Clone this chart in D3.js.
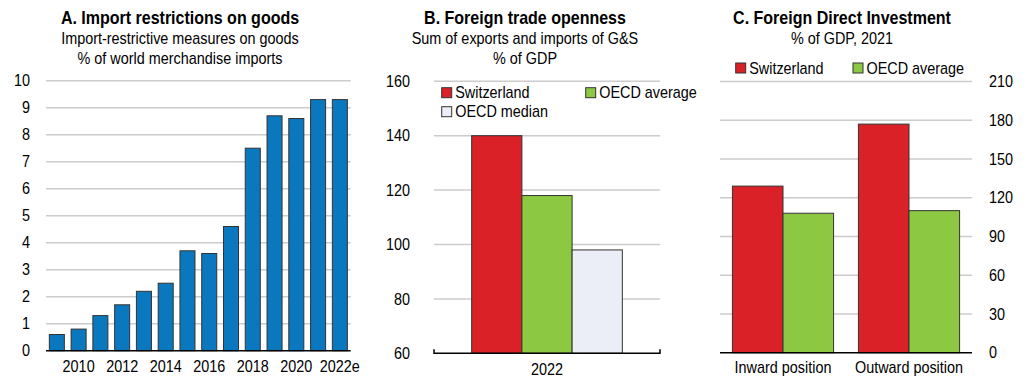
<!DOCTYPE html>
<html><head><meta charset="utf-8">
<script src="https://cdn.jsdelivr.net/npm/d3@7"></script>
<style>
html,body{margin:0;padding:0;background:#fff;}
svg text{font-family:'Liberation Sans Narrow','Arial Narrow','Liberation Sans',Arial,sans-serif;fill:#000;}
</style></head><body>
<svg id="c" width="1024" height="382"></svg>
<script>
// ---- Panel A data ----
const yearsA = ["2009","2010","2011","2012","2013","2014","2015","2016","2017","2018","2019","2020","2021","2022"];
const valuesA = [0.6,0.8,1.3,1.7,2.2,2.5,3.7,3.6,4.6,7.5,8.7,8.6,9.3,9.3];
const tickLabelsA = {"2010":"2010","2012":"2012","2014":"2014","2016":"2016","2018":"2018","2020":"2020","2022":"2022e"};
const yTicksA = [0,1,2,3,4,5,6,7,8,9,10];
// ---- Panel B data ----
const categoriesB = ["2022"];
const seriesB = ["Switzerland","OECD average","OECD median"];
const valuesB = [140,118,98];
const yTicksB = [60,80,100,120,140,160];
// ---- Panel C data ----
const categoriesC = ["Inward position","Outward position"];
const seriesC = ["Switzerland","OECD average"];
const switzerlandC = [129,177];
const oecdAvgC = [108,110];
const yTicksC = [0,30,60,90,120,150,180,210];

const colors = {"Switzerland":"#DA2128","OECD average":"#8CC841","OECD median":"#EBEEF7"};
const BLUE = "#0A78BF";
const GRID = "#CCCCCC";
const OUT = "#333333";
const FS = "16px";   // regular text size
const SX = 0.9;      // horizontal condensing to mimic narrow font

const svg = d3.select("#c");

function squeeze(sel, sx){
  sel.each(function(){
    const t = d3.select(this);
    const x = +(t.attr("x") || 0);
    t.attr("x", x/sx).attr("transform", `scale(${sx},1)`);
  });
}

function titles(cx, lines){
  const ys=[24,44,64];
  lines.forEach((t,i)=>{
    const el = svg.append("text").attr("x",cx).attr("y",ys[i]).attr("text-anchor","middle")
      .style("font-size", i===0?"18px":FS).style("font-weight", i===0?"bold":"normal").text(t);
    squeeze(el, i===0?0.89:SX);
  });
}

function styleAxisText(g){
  const s = g.selectAll("text").style("font-size",FS).attr("font-family",null);
  squeeze(s, SX);
}

// ===== Panel A =====
{
  const x = d3.scaleBand().domain(yearsA).range([46,350.7]).paddingInner(0.31).paddingOuter(0.153);
  const y = d3.scaleLinear().domain([0,10]).range([350.7,80.7]);
  const g = svg.append("g");
  g.selectAll("line.grid").data(yTicksA.filter(d=>d>0)).enter().append("line")
    .attr("x1",46).attr("x2",350.7).attr("y1",d=>y(d)).attr("y2",d=>y(d))
    .attr("stroke",GRID).attr("stroke-width",1.5);
  const ax = d3.axisLeft(y).tickValues(yTicksA).tickSize(0).tickPadding(16);
  const ga = g.append("g").attr("transform","translate(46,0)").call(ax);
  ga.select(".domain").remove();
  styleAxisText(ga);
  g.selectAll("rect.bar").data(valuesA).enter().append("rect")
    .attr("x",(d,i)=>x(yearsA[i])).attr("width",x.bandwidth())
    .attr("y",d=>y(d)).attr("height",d=>y(0)-y(d))
    .attr("fill",BLUE).attr("stroke",OUT).attr("stroke-width",1);
  g.append("line").attr("x1",46).attr("x2",350.7).attr("y1",y(0)).attr("y2",y(0)).attr("stroke","#000").attr("stroke-width",1.5);
  const bx = d3.axisBottom(x).tickValues(Object.keys(tickLabelsA)).tickFormat(d=>tickLabelsA[d]).tickSize(0).tickPadding(10);
  const gb = g.append("g").attr("transform",`translate(0,${y(0)})`).call(bx);
  gb.select(".domain").remove();
  styleAxisText(gb);
  titles(180,["A. Import restrictions on goods","Import-restrictive measures on goods","% of world merchandise imports"]);
}

// ===== Panel B =====
{
  const x0 = d3.scaleBand().domain(categoriesB).range([434,660]).paddingInner(0).paddingOuter(0.25);
  const x1 = d3.scaleBand().domain(seriesB).range([0,x0.bandwidth()]).padding(0);
  const y = d3.scaleLinear().domain([60,160]).range([353.3,81.3]);
  const g = svg.append("g");
  g.selectAll("line.grid").data(yTicksB.filter(d=>d>60)).enter().append("line")
    .attr("x1",434).attr("x2",660).attr("y1",d=>y(d)).attr("y2",d=>y(d))
    .attr("stroke",GRID).attr("stroke-width",1.5);
  const ax = d3.axisLeft(y).tickValues(yTicksB).tickSize(0).tickPadding(24);
  const ga = g.append("g").attr("transform","translate(434,0)").call(ax);
  ga.select(".domain").remove();
  styleAxisText(ga);
  categoriesB.forEach(c=>{
    g.selectAll(null).data(valuesB).enter().append("rect")
      .attr("x",(d,i)=>x0(c)+x1(seriesB[i])).attr("width",x1.bandwidth())
      .attr("y",d=>y(d)).attr("height",d=>y(60)-y(d))
      .attr("fill",(d,i)=>colors[seriesB[i]]).attr("stroke",OUT).attr("stroke-width",1);
  });
  g.append("path").attr("d",`M434,${y(60)-4}V${y(60)}H660V${y(60)-4}`).attr("fill","none").attr("stroke","#000").attr("stroke-width",1.5);
  const bx = d3.axisBottom(x0).tickSize(0).tickPadding(10);
  const gb = g.append("g").attr("transform",`translate(0,${y(60)})`).call(bx);
  gb.select(".domain").remove();
  styleAxisText(gb);
  // legend
  const leg = [{s:"Switzerland",x:441.7,y:92.7},{s:"OECD average",x:585.7,y:92.7},{s:"OECD median",x:441.7,y:111.7}];
  leg.forEach(l=>{
    g.append("rect").attr("x",l.x).attr("y",l.y-5).attr("width",10).attr("height",10)
      .attr("fill",colors[l.s]).attr("stroke",OUT).attr("stroke-width",1);
    const t = g.append("text").attr("x",l.x+13.5).attr("y",l.y+5.8).style("font-size",FS).text(l.s);
    squeeze(t, SX);
  });
  titles(525,["B. Foreign trade openness","Sum of exports and imports of G&S","% of GDP"]);
}

// ===== Panel C =====
{
  const x0 = d3.scaleBand().domain(categoriesC).range([720,972]).paddingInner(0.197).paddingOuter(0.0985);
  const x1 = d3.scaleBand().domain(seriesC).range([0,x0.bandwidth()]).padding(0);
  const y = d3.scaleLinear().domain([0,210]).range([352.7,81.5]);
  const g = svg.append("g");
  g.selectAll("line.grid").data(yTicksC.filter(d=>d>0)).enter().append("line")
    .attr("x1",720).attr("x2",972).attr("y1",d=>y(d)).attr("y2",d=>y(d))
    .attr("stroke",GRID).attr("stroke-width",1.5);
  const ax = d3.axisRight(y).tickValues(yTicksC).tickSize(0).tickPadding(17);
  const ga = g.append("g").attr("transform","translate(972,0)").call(ax);
  ga.select(".domain").remove();
  styleAxisText(ga);
  const seriesVals = {"Switzerland":switzerlandC,"OECD average":oecdAvgC};
  seriesC.forEach(s=>{
    g.selectAll(null).data(seriesVals[s]).enter().append("rect")
      .attr("x",(d,i)=>x0(categoriesC[i])+x1(s)).attr("width",x1.bandwidth())
      .attr("y",d=>y(d)).attr("height",d=>y(0)-y(d))
      .attr("fill",colors[s]).attr("stroke",OUT).attr("stroke-width",1);
  });
  g.append("line").attr("x1",720).attr("x2",972).attr("y1",y(0)).attr("y2",y(0)).attr("stroke","#000").attr("stroke-width",1.5);
  const bx = d3.axisBottom(x0).tickSize(0).tickPadding(9);
  const gb = g.append("g").attr("transform",`translate(0,${y(0)})`).call(bx);
  gb.select(".domain").remove();
  styleAxisText(gb);
  const leg = [{s:"Switzerland",x:735.7},{s:"OECD average",x:853}];
  leg.forEach(l=>{
    g.append("rect").attr("x",l.x).attr("y",63).attr("width",10).attr("height",10)
      .attr("fill",colors[l.s]).attr("stroke",OUT).attr("stroke-width",1);
    const t = g.append("text").attr("x",l.x+13.5).attr("y",73.8).style("font-size",FS).text(l.s);
    squeeze(t, SX);
  });
  titles(842,["C. Foreign Direct Investment","% of GDP, 2021"]);
}
</script>
</body></html>
